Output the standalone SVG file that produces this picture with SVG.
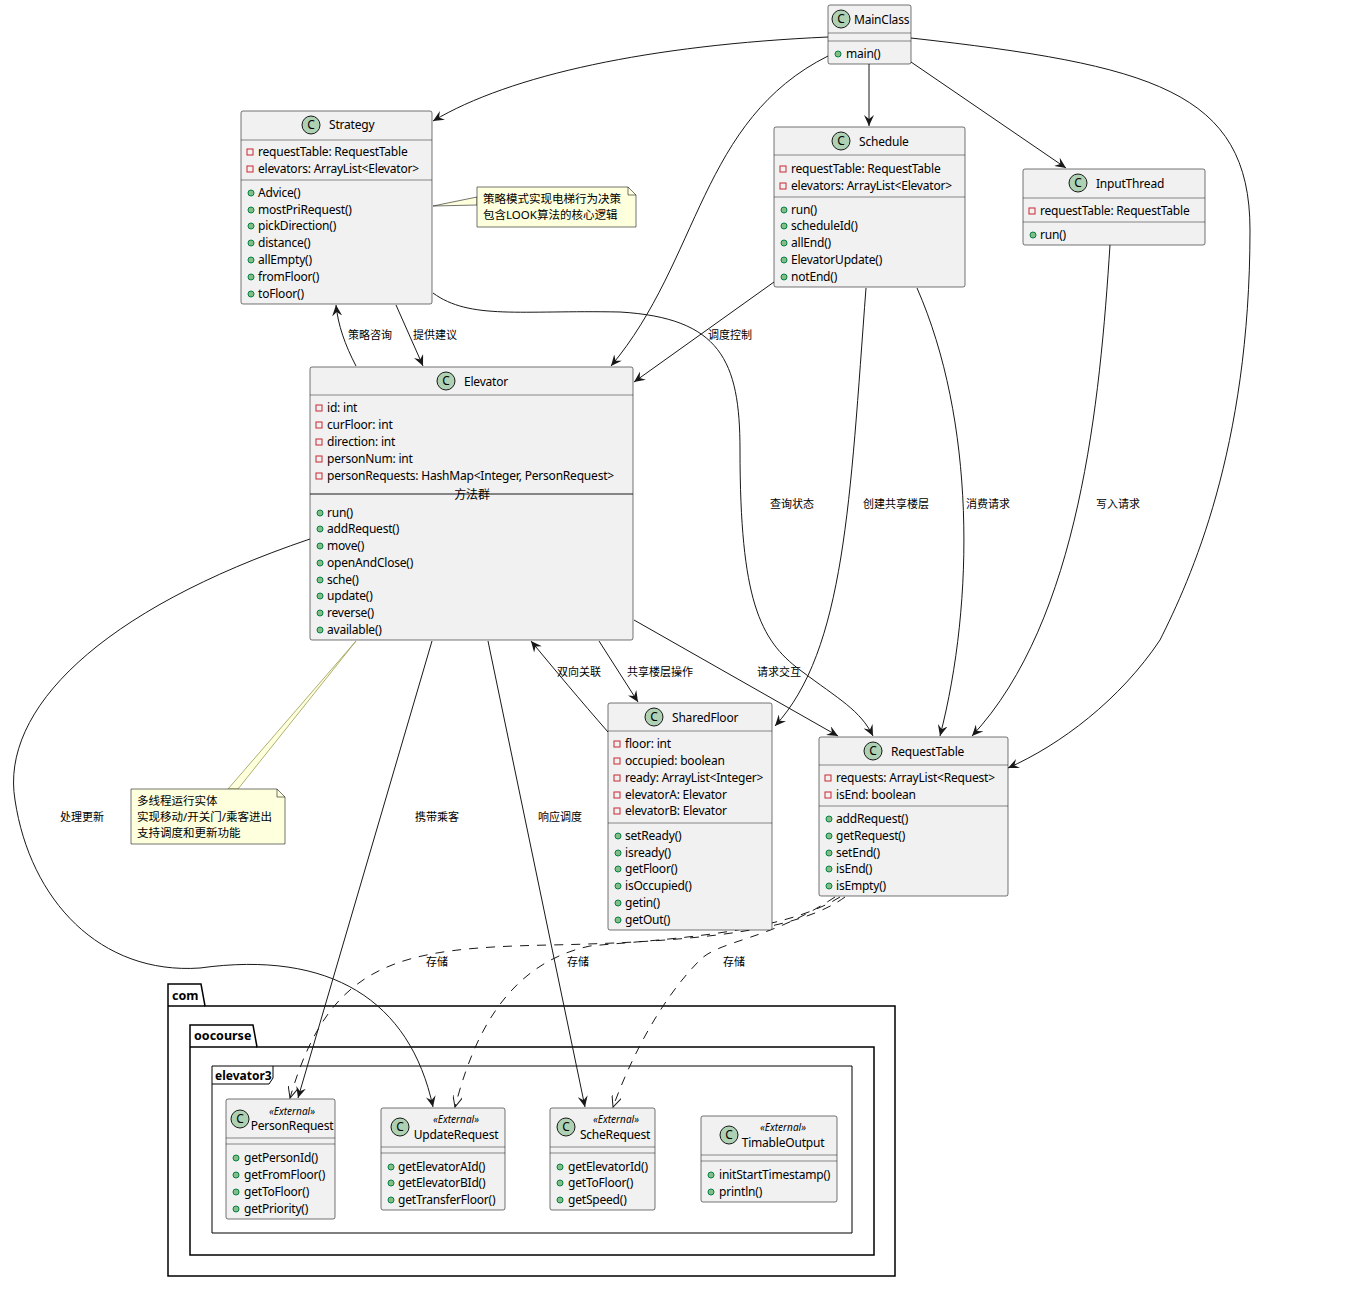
<svg xmlns="http://www.w3.org/2000/svg" width="1353" height="1306" viewBox="0 0 1353 1306">
<style>
text{font-family:"Noto Sans","Noto Sans CJK SC",sans-serif;fill:#000}
.box{fill:#F1F1F1;stroke:#181818;stroke-width:0.6}
.sep{stroke:#181818;stroke-width:0.5}
.m{font-size:12px;letter-spacing:-0.2px}
.h{font-size:12px;letter-spacing:-0.2px}
.st{font-size:10px;font-style:italic}
.ci{fill:#ADD1B2;stroke:#181818;stroke-width:1}
.cl{font-size:12px;text-anchor:middle}
.priv{fill:none;stroke:#C82930;stroke-width:1}
.pub{fill:#84BE84;stroke:#038048;stroke-width:1}
.note{fill:#FEFFDD;stroke:#181818;stroke-width:0.6}
.nt{font-size:11.5px}
.lbl{font-size:11px}
.c{fill:none;stroke:#181818;stroke-width:1}
.d{fill:none;stroke:#181818;stroke-width:1;stroke-dasharray:9,8}
.pk{fill:none;stroke:#000;stroke-width:1.5}
.pkt{font-size:12.5px;font-weight:bold}
</style>
<defs>
<marker id="a" viewBox="0 0 12 10" refX="11" refY="5" markerWidth="12" markerHeight="10" markerUnits="userSpaceOnUse" orient="auto">
<path d="M0,0 L11,5 L0,10 L4,5 Z" fill="#181818"/>
</marker>
<marker id="o" viewBox="0 0 12 10" refX="11" refY="5" markerWidth="12" markerHeight="10" markerUnits="userSpaceOnUse" orient="auto">
<path d="M0,0 L11,5 L0,10" fill="none" stroke="#181818" stroke-width="1"/>
</marker>
</defs>
<rect width="1353" height="1306" fill="#fff"/>

<g id="pkg-com">
<path class="pk" d="M168,1006 L168,984 L201,984 L205,1006 L895,1006 L895,1276 L168,1276 Z"/>
<line class="pk" x1="168" y1="1006" x2="205" y2="1006"/>
<text class="pkt" x="172" y="1000">com</text>
</g>
<g id="pkg-oocourse">
<path class="pk" d="M190,1047 L190,1025 L253,1025 L257,1047 L874,1047 L874,1255 L190,1255 Z"/>
<line class="pk" x1="190" y1="1047" x2="257" y2="1047"/>
<text class="pkt" x="194" y="1040">oocourse</text>
</g>
<g id="pkg-elevator3">
<path d="M212,1084 L212,1066 L852,1066 L852,1233 L212,1233 Z" fill="none" stroke="#000" stroke-width="1"/>
<path d="M212,1084 L269,1084 L273,1078 L273,1066" fill="none" stroke="#000" stroke-width="1"/>
<text class="pkt" x="215" y="1080" style="font-size:12px">elevator3</text>
</g>

<g id="connectors">
<path class="c" marker-end="url(#a)" d="M828,37 C650,45 510,75 433,121"/>
<path class="c" marker-end="url(#a)" d="M828,56 C700,120 700,260 611,366"/>
<path class="c" marker-end="url(#a)" d="M869,64 L869,126"/>
<path class="c" marker-end="url(#a)" d="M911,62 L1066,168"/>
<path class="c" marker-end="url(#a)" d="M911,38 C1150,65 1250,90 1250,230 C1250,450 1190,580 1160,640 C1120,700 1060,745 1008,768"/>
<path class="c" marker-end="url(#a)" d="M396,305 L423,366"/>
<path class="c" marker-end="url(#a)" d="M356,366 C345,345 338,325 336,305"/>
<path class="c" marker-end="url(#a)" d="M433,293 C470,320 520,310 620,312 C720,318 740,360 740,450 C740,600 760,640 800,670 C840,700 860,710 873,736"/>
<path class="c" marker-end="url(#a)" d="M774,282 L634,382"/>
<path class="c" marker-end="url(#a)" d="M866,288 C850,500 845,650 775,726"/>
<path class="c" marker-end="url(#a)" d="M917,288 C975,420 975,600 940,736"/>
<path class="c" marker-end="url(#a)" d="M1110,245 C1100,400 1080,620 972,736"/>
<path class="c" marker-end="url(#a)" d="M599,641 L638,702"/>
<path class="c" marker-end="url(#a)" d="M608,732 C580,700 555,670 531,641"/>
<path class="c" marker-end="url(#a)" d="M634,620 L838,736"/>
<path class="c" marker-end="url(#a)" d="M310,539 C100,610 0,710 15,800 C30,900 100,975 200,968 C330,950 410,1000 433,1107"/>
<path class="c" marker-end="url(#a)" d="M432,641 L298,1098"/>
<path class="c" marker-end="url(#a)" d="M488,641 L585,1107"/>
<path class="d" marker-end="url(#o)" d="M845,897 C800,930 700,942 550,945 C400,948 330,960 290,1098"/>
<path class="d" marker-end="url(#o)" d="M840,897 C780,935 650,940 590,946 C500,965 470,1050 455,1107"/>
<path class="d" marker-end="url(#o)" d="M835,897 C770,940 720,940 700,960 C660,1000 630,1060 613,1107"/>
<path d="M433,206 L477,197 L477,205 Z" fill="#FEFFDD" stroke="#181818" stroke-width="0.6"/>
<path d="M356,641 L228,789 L238,789 Z" fill="#FEFFDD" stroke="#9A9A50" stroke-width="0.8"/>
<g class="lbl">
<text x="348" y="339">策略咨询</text>
<text x="413" y="339">提供建议</text>
<text x="708" y="339">调度控制</text>
<text x="770" y="508">查询状态</text>
<text x="863" y="508">创建共享楼层</text>
<text x="966" y="508">消费请求</text>
<text x="1096" y="508">写入请求</text>
<text x="557" y="676">双向关联</text>
<text x="627" y="676">共享楼层操作</text>
<text x="757" y="676">请求交互</text>
<text x="60" y="821">处理更新</text>
<text x="415" y="821">携带乘客</text>
<text x="538" y="821">响应调度</text>
<text x="426" y="966">存储</text>
<text x="567" y="966">存储</text>
<text x="723" y="966">存储</text>
</g>
</g>

<g id="note-strategy">
<path class="note" d="M477,187 L628,187 L636,195 L636,227 L477,227 Z"/>
<path d="M628,187 L628,195 L636,195" fill="none" stroke="#181818" stroke-width="0.6"/>
<text class="nt" x="483" y="203">策略模式实现电梯行为决策</text>
<text class="nt" x="483" y="219">包含LOOK算法的核心逻辑</text>
</g>
<g id="note-elevator">
<path class="note" d="M131,789 L277,789 L285,797 L285,844 L131,844 Z"/>
<path d="M277,789 L277,797 L285,797" fill="none" stroke="#181818" stroke-width="0.6"/>
<text class="nt" x="137" y="805">多线程运行实体</text>
<text class="nt" x="137" y="821">实现移动/开关门/乘客进出</text>
<text class="nt" x="137" y="837">支持调度和更新功能</text>
</g>

<g id="MainClass">
<rect class="box" x="828" y="5" width="83" height="59" rx="2"/>
<circle class="ci" cx="841" cy="19" r="9"/><text class="cl" x="841" y="23">C</text>
<text class="h" x="854" y="24">MainClass</text>
<line class="sep" x1="828" y1="33" x2="911" y2="33"/>
<line class="sep" x1="828" y1="41" x2="911" y2="41"/>
<circle class="pub" cx="838" cy="54" r="3"/><text class="m" x="846" y="58">main()</text>
</g>

<g id="Strategy">
<rect class="box" x="241" y="111" width="191" height="193" rx="2"/>
<circle class="ci" cx="311" cy="125" r="9"/><text class="cl" x="311" y="129">C</text>
<text class="h" x="329" y="129">Strategy</text>
<line class="sep" x1="241" y1="140" x2="432" y2="140"/>
<rect class="priv" x="247" y="149" width="6" height="6"/><text class="m" x="258" y="156">requestTable: RequestTable</text>
<rect class="priv" x="247" y="166" width="6" height="6"/><text class="m" x="258" y="173">elevators: ArrayList&lt;Elevator&gt;</text>
<line class="sep" x1="241" y1="180" x2="432" y2="180"/>
<g class="m">
<circle class="pub" cx="251" cy="193" r="3"/><text x="258" y="197">Advice()</text>
<circle class="pub" cx="251" cy="210" r="3"/><text x="258" y="214">mostPriRequest()</text>
<circle class="pub" cx="251" cy="226" r="3"/><text x="258" y="230">pickDirection()</text>
<circle class="pub" cx="251" cy="243" r="3"/><text x="258" y="247">distance()</text>
<circle class="pub" cx="251" cy="260" r="3"/><text x="258" y="264">allEmpty()</text>
<circle class="pub" cx="251" cy="277" r="3"/><text x="258" y="281">fromFloor()</text>
<circle class="pub" cx="251" cy="294" r="3"/><text x="258" y="298">toFloor()</text>
</g>
</g>

<g id="Schedule">
<rect class="box" x="774" y="127" width="191" height="160" rx="2"/>
<circle class="ci" cx="841" cy="141" r="9"/><text class="cl" x="841" y="145">C</text>
<text class="h" x="859" y="146">Schedule</text>
<line class="sep" x1="774" y1="155" x2="965" y2="155"/>
<rect class="priv" x="780" y="166" width="6" height="6"/><text class="m" x="791" y="173">requestTable: RequestTable</text>
<rect class="priv" x="780" y="183" width="6" height="6"/><text class="m" x="791" y="190">elevators: ArrayList&lt;Elevator&gt;</text>
<line class="sep" x1="774" y1="197" x2="965" y2="197"/>
<g class="m">
<circle class="pub" cx="784" cy="210" r="3"/><text x="791" y="214">run()</text>
<circle class="pub" cx="784" cy="226" r="3"/><text x="791" y="230">scheduleId()</text>
<circle class="pub" cx="784" cy="243" r="3"/><text x="791" y="247">allEnd()</text>
<circle class="pub" cx="784" cy="260" r="3"/><text x="791" y="264">ElevatorUpdate()</text>
<circle class="pub" cx="784" cy="277" r="3"/><text x="791" y="281">notEnd()</text>
</g>
</g>

<g id="InputThread">
<rect class="box" x="1023" y="169" width="182" height="76" rx="2"/>
<circle class="ci" cx="1078" cy="183" r="9"/><text class="cl" x="1078" y="187">C</text>
<text class="h" x="1096" y="188">InputThread</text>
<line class="sep" x1="1023" y1="198" x2="1205" y2="198"/>
<rect class="priv" x="1029" y="208" width="6" height="6"/><text class="m" x="1040" y="215">requestTable: RequestTable</text>
<line class="sep" x1="1023" y1="222" x2="1205" y2="222"/>
<circle class="pub" cx="1033" cy="235" r="3"/><text class="m" x="1040" y="239">run()</text>
</g>

<g id="Elevator">
<rect class="box" x="310" y="367" width="323" height="273" rx="2"/>
<circle class="ci" cx="446" cy="381" r="9"/><text class="cl" x="446" y="385">C</text>
<text class="h" x="464" y="386">Elevator</text>
<line class="sep" x1="310" y1="395" x2="633" y2="395"/>
<g class="m">
<rect class="priv" x="316" y="405" width="6" height="6"/><text x="327" y="412">id: int</text>
<rect class="priv" x="316" y="422" width="6" height="6"/><text x="327" y="429">curFloor: int</text>
<rect class="priv" x="316" y="439" width="6" height="6"/><text x="327" y="446">direction: int</text>
<rect class="priv" x="316" y="456" width="6" height="6"/><text x="327" y="463">personNum: int</text>
<rect class="priv" x="316" y="473" width="6" height="6"/><text x="327" y="480">personRequests: HashMap&lt;Integer, PersonRequest&gt;</text>
</g>
<line x1="310" y1="494" x2="633" y2="494" stroke="#181818" stroke-width="1"/>
<text class="m" x="472" y="499" text-anchor="middle">方法群</text>
<g class="m">
<circle class="pub" cx="320" cy="513" r="3"/><text x="327" y="517">run()</text>
<circle class="pub" cx="320" cy="529" r="3"/><text x="327" y="533">addRequest()</text>
<circle class="pub" cx="320" cy="546" r="3"/><text x="327" y="550">move()</text>
<circle class="pub" cx="320" cy="563" r="3"/><text x="327" y="567">openAndClose()</text>
<circle class="pub" cx="320" cy="580" r="3"/><text x="327" y="584">sche()</text>
<circle class="pub" cx="320" cy="596" r="3"/><text x="327" y="600">update()</text>
<circle class="pub" cx="320" cy="613" r="3"/><text x="327" y="617">reverse()</text>
<circle class="pub" cx="320" cy="630" r="3"/><text x="327" y="634">available()</text>
</g>
</g>

<g id="SharedFloor">
<rect class="box" x="608" y="703" width="164" height="227" rx="2"/>
<circle class="ci" cx="654" cy="717" r="9"/><text class="cl" x="654" y="721">C</text>
<text class="h" x="672" y="722">SharedFloor</text>
<line class="sep" x1="608" y1="731" x2="772" y2="731"/>
<g class="m">
<rect class="priv" x="614" y="741" width="6" height="6"/><text x="625" y="748">floor: int</text>
<rect class="priv" x="614" y="758" width="6" height="6"/><text x="625" y="765">occupied: boolean</text>
<rect class="priv" x="614" y="775" width="6" height="6"/><text x="625" y="782">ready: ArrayList&lt;Integer&gt;</text>
<rect class="priv" x="614" y="792" width="6" height="6"/><text x="625" y="799">elevatorA: Elevator</text>
<rect class="priv" x="614" y="808" width="6" height="6"/><text x="625" y="815">elevatorB: Elevator</text>
</g>
<line class="sep" x1="608" y1="823" x2="772" y2="823"/>
<g class="m">
<circle class="pub" cx="618" cy="836" r="3"/><text x="625" y="840">setReady()</text>
<circle class="pub" cx="618" cy="853" r="3"/><text x="625" y="857">isready()</text>
<circle class="pub" cx="618" cy="869" r="3"/><text x="625" y="873">getFloor()</text>
<circle class="pub" cx="618" cy="886" r="3"/><text x="625" y="890">isOccupied()</text>
<circle class="pub" cx="618" cy="903" r="3"/><text x="625" y="907">getin()</text>
<circle class="pub" cx="618" cy="920" r="3"/><text x="625" y="924">getOut()</text>
</g>
</g>

<g id="RequestTable">
<rect class="box" x="819" y="737" width="189" height="159" rx="2"/>
<circle class="ci" cx="873" cy="751" r="9"/><text class="cl" x="873" y="755">C</text>
<text class="h" x="891" y="756">RequestTable</text>
<line class="sep" x1="819" y1="765" x2="1008" y2="765"/>
<rect class="priv" x="825" y="775" width="6" height="6"/><text class="m" x="836" y="782">requests: ArrayList&lt;Request&gt;</text>
<rect class="priv" x="825" y="792" width="6" height="6"/><text class="m" x="836" y="799">isEnd: boolean</text>
<line class="sep" x1="819" y1="806" x2="1008" y2="806"/>
<g class="m">
<circle class="pub" cx="829" cy="819" r="3"/><text x="836" y="823">addRequest()</text>
<circle class="pub" cx="829" cy="836" r="3"/><text x="836" y="840">getRequest()</text>
<circle class="pub" cx="829" cy="853" r="3"/><text x="836" y="857">setEnd()</text>
<circle class="pub" cx="829" cy="869" r="3"/><text x="836" y="873">isEnd()</text>
<circle class="pub" cx="829" cy="886" r="3"/><text x="836" y="890">isEmpty()</text>
</g>
</g>

<g id="PersonRequest">
<rect class="box" x="226" y="1099" width="109" height="120" rx="2"/>
<circle class="ci" cx="240" cy="1119" r="9"/><text class="cl" x="240" y="1123">C</text>
<text class="st" x="292" y="1115" text-anchor="middle">«External»</text>
<text class="h" x="292" y="1130" text-anchor="middle">PersonRequest</text>
<line class="sep" x1="226" y1="1138" x2="335" y2="1138"/>
<line class="sep" x1="226" y1="1144" x2="335" y2="1144"/>
<g class="m">
<circle class="pub" cx="236" cy="1158" r="3"/><text x="244" y="1162">getPersonId()</text>
<circle class="pub" cx="236" cy="1175" r="3"/><text x="244" y="1179">getFromFloor()</text>
<circle class="pub" cx="236" cy="1192" r="3"/><text x="244" y="1196">getToFloor()</text>
<circle class="pub" cx="236" cy="1209" r="3"/><text x="244" y="1213">getPriority()</text>
</g>
</g>
<g id="UpdateRequest">
<rect class="box" x="381" y="1108" width="124" height="102" rx="2"/>
<circle class="ci" cx="400" cy="1127" r="9"/><text class="cl" x="400" y="1131">C</text>
<text class="st" x="456" y="1123" text-anchor="middle">«External»</text>
<text class="h" x="456" y="1139" text-anchor="middle">UpdateRequest</text>
<line class="sep" x1="381" y1="1147" x2="505" y2="1147"/>
<line class="sep" x1="381" y1="1153" x2="505" y2="1153"/>
<g class="m">
<circle class="pub" cx="391" cy="1167" r="3"/><text x="398" y="1171">getElevatorAId()</text>
<circle class="pub" cx="391" cy="1183" r="3"/><text x="398" y="1187">getElevatorBId()</text>
<circle class="pub" cx="391" cy="1200" r="3"/><text x="398" y="1204">getTransferFloor()</text>
</g>
</g>
<g id="ScheRequest">
<rect class="box" x="550" y="1108" width="105" height="102" rx="2"/>
<circle class="ci" cx="566" cy="1127" r="9"/><text class="cl" x="566" y="1131">C</text>
<text class="st" x="616" y="1123" text-anchor="middle">«External»</text>
<text class="h" x="615" y="1139" text-anchor="middle">ScheRequest</text>
<line class="sep" x1="550" y1="1147" x2="655" y2="1147"/>
<line class="sep" x1="550" y1="1153" x2="655" y2="1153"/>
<g class="m">
<circle class="pub" cx="560" cy="1167" r="3"/><text x="568" y="1171">getElevatorId()</text>
<circle class="pub" cx="560" cy="1183" r="3"/><text x="568" y="1187">getToFloor()</text>
<circle class="pub" cx="560" cy="1200" r="3"/><text x="568" y="1204">getSpeed()</text>
</g>
</g>
<g id="TimableOutput">
<rect class="box" x="701" y="1116" width="136" height="86" rx="2"/>
<circle class="ci" cx="729" cy="1135" r="9"/><text class="cl" x="729" y="1139">C</text>
<text class="st" x="783" y="1131" text-anchor="middle">«External»</text>
<text class="h" x="783" y="1147" text-anchor="middle">TimableOutput</text>
<line class="sep" x1="701" y1="1155" x2="837" y2="1155"/>
<line class="sep" x1="701" y1="1161" x2="837" y2="1161"/>
<g class="m">
<circle class="pub" cx="711" cy="1175" r="3"/><text x="719" y="1179">initStartTimestamp()</text>
<circle class="pub" cx="711" cy="1192" r="3"/><text x="719" y="1196">println()</text>
</g>
</g>
</svg>
